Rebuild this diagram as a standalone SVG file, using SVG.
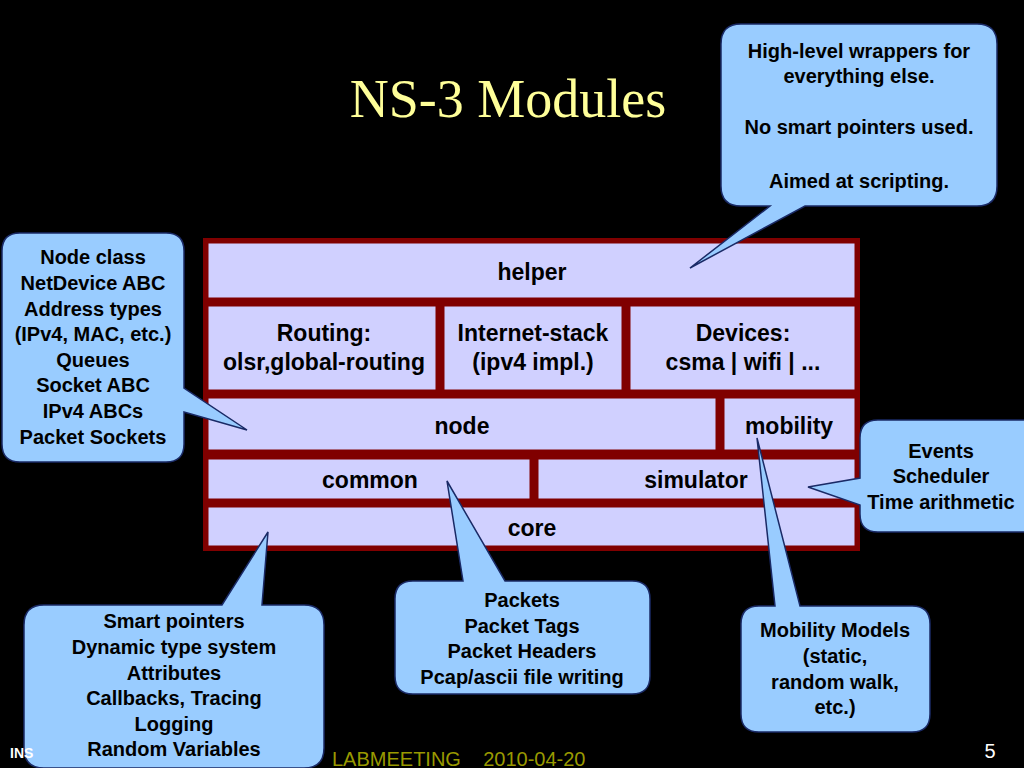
<svg xmlns="http://www.w3.org/2000/svg" width="1024" height="768" viewBox="0 0 1024 768">
<style>
.b{fill:#d0d0ff;stroke:#800000;stroke-width:5}
.t{font-family:"Liberation Sans",Arial,sans-serif;font-weight:bold;font-size:23px;fill:#000;text-anchor:middle}
.c{fill:#99ccff;stroke:#1a2a66;stroke-width:1.5}
.ct{font-family:"Liberation Sans",Arial,sans-serif;font-weight:bold;font-size:20px;fill:#000;text-anchor:middle}
</style>
<rect width="1024" height="768" fill="#000"/>
<text x="508" y="117" font-family="Liberation Serif,serif" font-size="54" fill="#ffff99" text-anchor="middle">NS-3 Modules</text>
<rect x="203" y="238" width="657" height="313" fill="#800000"/>
<g id="helper"><rect class="b" x="206" y="241" width="651" height="59"/><text class="t" x="532" y="280">helper</text></g>
<g id="routing"><rect class="b" x="206" y="304" width="232" height="88"/><text class="t" x="324" y="341">Routing:</text><text class="t" x="324" y="370">olsr,global-routing</text></g>
<g id="internet"><rect class="b" x="442" y="304" width="182" height="88"/><text class="t" x="533" y="341">Internet-stack</text><text class="t" x="533" y="370">(ipv4 impl.)</text></g>
<g id="devices"><rect class="b" x="628" y="304" width="229" height="88"/><text class="t" x="743" y="341">Devices:</text><text class="t" x="743" y="370">csma | wifi | ...</text></g>
<g id="node"><rect class="b" x="206" y="396" width="512" height="56"/><text class="t" x="462" y="434">node</text></g>
<g id="mobility"><rect class="b" x="722" y="396" width="135" height="56"/><text class="t" x="789" y="434">mobility</text></g>
<g id="common"><rect class="b" x="206" y="457" width="326" height="44"/><text class="t" x="370" y="488">common</text></g>
<g id="simulator"><rect class="b" x="536" y="457" width="321" height="44"/><text class="t" x="696" y="488">simulator</text></g>
<g id="core"><rect class="b" x="206" y="505" width="651" height="43"/><text class="t" x="532" y="536">core</text></g>
<g id="connectors">
<g id="c1"><path class="c" d="M741,24 H977 Q997,24 997,44 V186 Q997,206 977,206 H805 L690,268 L770,206 H741 Q721,206 721,186 V44 Q721,24 741,24 Z"/>
<text class="ct" x="859" y="58">High-level wrappers for</text><text class="ct" x="859" y="83">everything else.</text><text class="ct" x="859" y="134">No smart pointers used.</text><text class="ct" x="859" y="188">Aimed at scripting.</text></g>
<g id="c2"><path class="c" d="M20,233 H166 Q184,233 184,251 V388 L247,430 L184,412 V444 Q184,462 166,462 H20 Q2,462 2,444 V251 Q2,233 20,233 Z"/>
<text class="ct" x="93" y="264">Node class</text><text class="ct" x="93" y="290">NetDevice ABC</text><text class="ct" x="93" y="316">Address types</text><text class="ct" x="93" y="341">(IPv4, MAC, etc.)</text><text class="ct" x="93" y="367">Queues</text><text class="ct" x="93" y="392">Socket ABC</text><text class="ct" x="93" y="418">IPv4 ABCs</text><text class="ct" x="93" y="444">Packet Sockets</text></g>
<g id="c3"><path class="c" d="M44,605 H222 L268,532 L262,605 H304 Q324,605 324,625 V748 Q324,768 304,768 H44 Q24,768 24,748 V625 Q24,605 44,605 Z"/>
<text class="ct" x="174" y="628">Smart pointers</text><text class="ct" x="174" y="654">Dynamic type system</text><text class="ct" x="174" y="680">Attributes</text><text class="ct" x="174" y="705">Callbacks, Tracing</text><text class="ct" x="174" y="731">Logging</text><text class="ct" x="174" y="756">Random Variables</text></g>
<g id="c4"><path class="c" d="M413,581 H463 L447,481 L505,581 H632 Q650,581 650,599 V676 Q650,694 632,694 H413 Q395,694 395,676 V599 Q395,581 413,581 Z"/>
<text class="ct" x="522" y="607">Packets</text><text class="ct" x="522" y="633">Packet Tags</text><text class="ct" x="522" y="658">Packet Headers</text><text class="ct" x="522" y="684">Pcap/ascii file writing</text></g>
<g id="c5"><path class="c" d="M759,606 H775 L757,438 L800,606 H912 Q930,606 930,624 V714 Q930,732 912,732 H759 Q741,732 741,714 V624 Q741,606 759,606 Z"/>
<text class="ct" x="835" y="637">Mobility Models</text><text class="ct" x="835" y="663">(static,</text><text class="ct" x="835" y="689">random walk,</text><text class="ct" x="835" y="714">etc.)</text></g>
<g id="c6"><path class="c" d="M878,420 H1030 V532 H878 Q860,532 860,514 V505 L808,487 L860,478 V438 Q860,420 878,420 Z"/>
<text class="ct" x="941" y="458">Events</text><text class="ct" x="941" y="483">Scheduler</text><text class="ct" x="941" y="509">Time arithmetic</text></g>
</g>
<text x="10" y="758" font-family="Liberation Sans,sans-serif" font-weight="bold" font-size="14" fill="#fff">INS</text>
<text x="332" y="766" font-family="Liberation Sans,sans-serif" font-size="20" fill="#999900" xml:space="preserve">LABMEETING    2010-04-20</text>
<text x="990" y="758" font-family="Liberation Sans,sans-serif" font-size="20" fill="#fff" text-anchor="middle">5</text>
</svg>
